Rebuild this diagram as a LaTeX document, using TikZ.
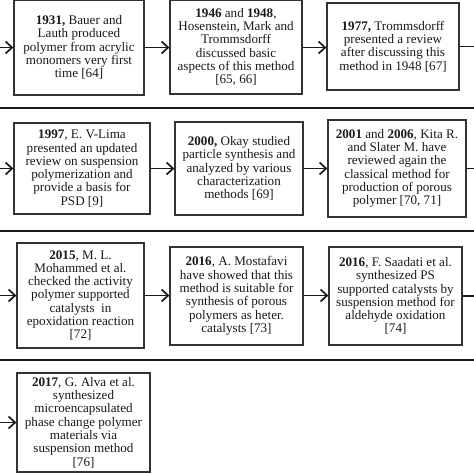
\documentclass[tikz,border=0pt]{standalone}
\usepackage{fontspec}
\setmainfont{Liberation Serif}
\usetikzlibrary{arrows.meta}
\definecolor{ink}{HTML}{1A1A1A}
\definecolor{edge}{HTML}{333333}
\tikzset{
  box/.style={draw=edge, line width=1.3pt, rectangle, align=center, inner sep=0pt,
    text=ink, font=\fontsize{13.1}{13.3}\selectfont},
  flow/.style={draw=ink, line width=1.7pt, -{Straight Barb[length=6.5pt,width=12pt,line width=1.7pt]}},
  tail/.style={draw=ink, line width=1.4pt},
  sep/.style={draw=ink, line width=1.6pt}
}
\begin{document}
\begin{tikzpicture}[x=1pt,y=-1pt]
\useasboundingbox[fill=white] (0,0) rectangle (474,474);
% row 1
\node[box, minimum width=130pt, minimum height=95pt] (b1) at (79,47.5)
  {\textbf{1931,} Bauer and\\Lauth produced\\polymer from acrylic\\monomers very first\\time [64]};
\node[box, minimum width=132pt, minimum height=94pt] (b2) at (236,47)
  {\textbf{1946} and \textbf{1948},\\Hosenstein, Mark and\\Trommsdorff\\discussed basic\\aspects of this method\\{}[65, 66]};
\node[box, minimum width=132pt, minimum height=87pt] (b3) at (393,46.5)
  {\textbf{1977,} Trommsdorff\\presented a review\\after discussing this\\method in 1948 [67]};
% row 2
\node[box, minimum width=136pt, minimum height=91pt] (b4) at (82,168.5)
  {\textbf{1997}, E. V-Lima\\presented an updated\\review on suspension\\polymerization and\\provide a basis for\\PSD [9]};
\node[box, minimum width=128pt, minimum height=93pt] (b5) at (239,168.5)
  {\textbf{2000,} Okay studied\\particle synthesis and\\analyzed by various\\characterization\\methods [69]};
\node[box, minimum width=138pt, minimum height=97pt] (b6) at (397,168.5)
  {\textbf{2001} and \textbf{2006}, Kita R.\\and Slater M. have\\reviewed again the\\classical method for\\production of porous\\polymer [70, 71]};
% row 3
\node[box, minimum width=127pt, minimum height=105pt] (b7) at (80.5,295.5)
  {\textbf{2015}, M. L.\\Mohammed et al.\\checked the activity\\polymer supported\\catalysts~ in\\epoxidation reaction\\{}[72]};
\node[box, minimum width=133pt, minimum height=98pt] (b8) at (236.5,296)
  {\textbf{2016}, A. Mostafavi\\have showed that this\\method is suitable for\\synthesis of porous\\polymers as heter.\\catalysts [73]};
\node[box, minimum width=133pt, minimum height=98pt] (b9) at (395.5,296)
  {\textbf{2016}, F. Saadati et al.\\synthesized PS\\supported catalysts by\\suspension method for\\aldehyde oxidation\\{}[74]};
% row 4
\node[box, minimum width=133pt, minimum height=99pt] (b10) at (83.5,422.5)
  {\textbf{2017}, G. Alva et al.\\synthesized\\microencapsulated\\phase change polymer\\materials via\\suspension method\\{}[76]};
% separators
\coordinate (s1a) at (0,108); \coordinate (s1b) at (474,108);
\coordinate (s2a) at (0,231); \coordinate (s2b) at (474,231);
\coordinate (s3a) at (0,360); \coordinate (s3b) at (474,360);
\draw[sep] (s1a) -- (s1b);
\draw[sep] (s2a) -- (s2b);
\draw[sep] (s3a) -- (s3b);
% left incoming arrows
\coordinate (l1) at (0,47.5);
\coordinate (l2) at (0,168.5);
\coordinate (l3) at (0,295.5);
\coordinate (l4) at (0,422.5);
\draw[flow] (l1) -- (b1.west);
\draw[flow] (l2) -- (b4.west);
\draw[flow] (l3) -- (b7.west);
\draw[flow] (l4) -- (b10.west);
% arrows between boxes
\draw[flow] (b1.east) -- (b2.west |- b1.east);
\draw[flow] (b2.east |- b1.east) -- (b3.west |- b1.east);
\draw[flow] (b4.east) -- (b5.west);
\draw[flow] (b5.east) -- (b6.west);
\draw[flow] (b7.east) -- (b8.west |- b7.east);
\draw[flow] (b8.east |- b7.east) -- (b9.west |- b7.east);
% outgoing tails
\coordinate (r1) at (474,46.5);
\coordinate (r2) at (474,168.5);
\coordinate (r3) at (474,296);
\draw[tail] (b3.east) -- (r1);
\draw[tail] (b6.east) -- (r2);
\draw[tail] (b9.east) -- (r3);
\end{tikzpicture}
\end{document}
